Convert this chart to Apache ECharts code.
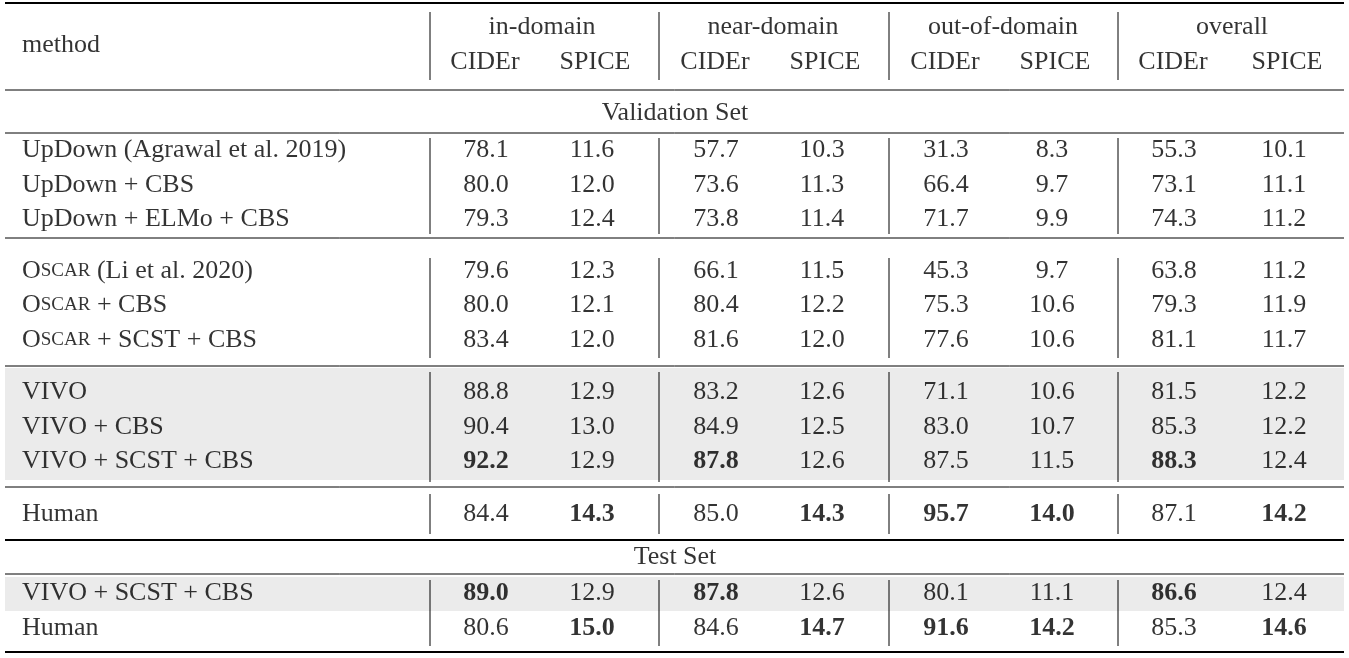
<!DOCTYPE html><html><head><meta charset="utf-8">
<script src="https://cdn.jsdelivr.net/npm/echarts@6/dist/echarts.min.js"></script>
<style>html,body{margin:0;background:#fff}#c{width:1349px;height:658px}</style></head><body><div id="c"></div>
<script>
// ---- data ----
const groups = ['in-domain','near-domain','out-of-domain','overall'];
const metrics = ['CIDEr','SPICE'];
const methods = ['UpDown (Agrawal et al. 2019)','UpDown + CBS','UpDown + ELMo + CBS',
 'OSCAR (Li et al. 2020)','OSCAR + CBS','OSCAR + SCST + CBS',
 'VIVO','VIVO + CBS','VIVO + SCST + CBS','Human','VIVO + SCST + CBS','Human'];
const values = [
 ['78.1','11.6','57.7','10.3','31.3','8.3','55.3','10.1'],
 ['80.0','12.0','73.6','11.3','66.4','9.7','73.1','11.1'],
 ['79.3','12.4','73.8','11.4','71.7','9.9','74.3','11.2'],
 ['79.6','12.3','66.1','11.5','45.3','9.7','63.8','11.2'],
 ['80.0','12.1','80.4','12.2','75.3','10.6','79.3','11.9'],
 ['83.4','12.0','81.6','12.0','77.6','10.6','81.1','11.7'],
 ['88.8','12.9','83.2','12.6','71.1','10.6','81.5','12.2'],
 ['90.4','13.0','84.9','12.5','83.0','10.7','85.3','12.2'],
 ['92.2','12.9','87.8','12.6','87.5','11.5','88.3','12.4'],
 ['84.4','14.3','85.0','14.3','95.7','14.0','87.1','14.2'],
 ['89.0','12.9','87.8','12.6','80.1','11.1','86.6','12.4'],
 ['80.6','15.0','84.6','14.7','91.6','14.2','85.3','14.6']];
const bold = [[],[],[],[],[],[],[],[],[0,2,6],[1,3,4,5,7],[0,2,6],[1,3,4,5,7]];
const sections = ['Validation Set','Test Set'];
// ---- layout ----
const rowY = [150,185,219,271,305,340,392,427,461,514,593,628];
const colX = [486,592,716,822,946,1052,1174,1284];
const groupX = [542,773,1003,1232];
const sepX = [430,659,889,1118];
const font = 'Liberation Serif';
const texts = [];
methods.forEach((m,i)=>{
  let lab = m.startsWith('OSCAR') ? '{a|O}{s|SCAR}'+m.slice(5) : m;
  texts.push({value:[22,rowY[i]],label:{formatter:lab,align:'left'}});
  values[i].forEach((v,j)=>texts.push({value:[colX[j],rowY[i]],label:{formatter:v,fontWeight:bold[i].includes(j)?'bold':'normal'}}));
});
texts.push({value:[22,45],label:{formatter:'method',align:'left'}});
groups.forEach((g,i)=>texts.push({value:[groupX[i],27],label:{formatter:g}}));
colX.forEach((x,j)=>texts.push({value:[j%2?x+3:x-1,62],label:{formatter:metrics[j%2]}}));
texts.push({value:[675,113],label:{formatter:sections[0]}});
texts.push({value:[675,557],label:{formatter:sections[1]}});
const bands=[[368,480],[577,611]];
const hlines=[[3,2],[90,1],[133,1],[238,1],[366,1],[487,1],[540,2],[574,1],[652,2]];
const vblocks=[[12,80],[138,234],[258,358],[372,482],[494,534],[580,646]];
const shapes=[];
bands.forEach(b=>shapes.push({t:'r',y1:b[0],y2:b[1]}));
hlines.forEach(h=>shapes.push({t:'h',y:h[0],w:h[1]}));
vblocks.forEach(b=>sepX.forEach(x=>shapes.push({t:'v',x:x,y1:b[0],y2:b[1]})));
const chart=echarts.init(document.getElementById('c'));
chart.setOption({animation:false,
 grid:{left:0,right:0,top:0,bottom:0},
 xAxis:{type:'value',min:0,max:1349,show:false},
 yAxis:{type:'value',min:0,max:658,inverse:true,show:false},
 series:[
 {type:'custom',data:shapes.map((s,i)=>[i]),renderItem:(p,api)=>{
   const s=shapes[p.dataIndex];
   if(s.t==='r'){const a=api.coord([5,s.y1]),b=api.coord([1344,s.y2]);
     return {type:'rect',shape:{x:a[0],y:a[1],width:b[0]-a[0],height:b[1]-a[1]},style:{fill:'#ebebeb'}};}
   if(s.t==='h'){const a=api.coord([5,s.y]),b=api.coord([1344,s.y]);
     return {type:'line',shape:{x1:a[0],y1:a[1],x2:b[0],y2:b[1]},style:{stroke:'#000',lineWidth:s.w}};}
   const a=api.coord([s.x,s.y1]),b=api.coord([s.x,s.y2]);
   return {type:'line',shape:{x1:a[0],y1:a[1],x2:b[0],y2:b[1]},style:{stroke:'#000',lineWidth:1}};
 }},
 {type:'scatter',symbolSize:0,data:texts,
  label:{show:true,position:'inside',color:'#000',fontFamily:font,fontSize:26,align:'center',verticalAlign:'middle',
   rich:{a:{fontFamily:font,fontSize:26,color:'#000'},s:{fontFamily:font,fontSize:19,color:'#000'}}}}
 ]});
</script></body></html>
